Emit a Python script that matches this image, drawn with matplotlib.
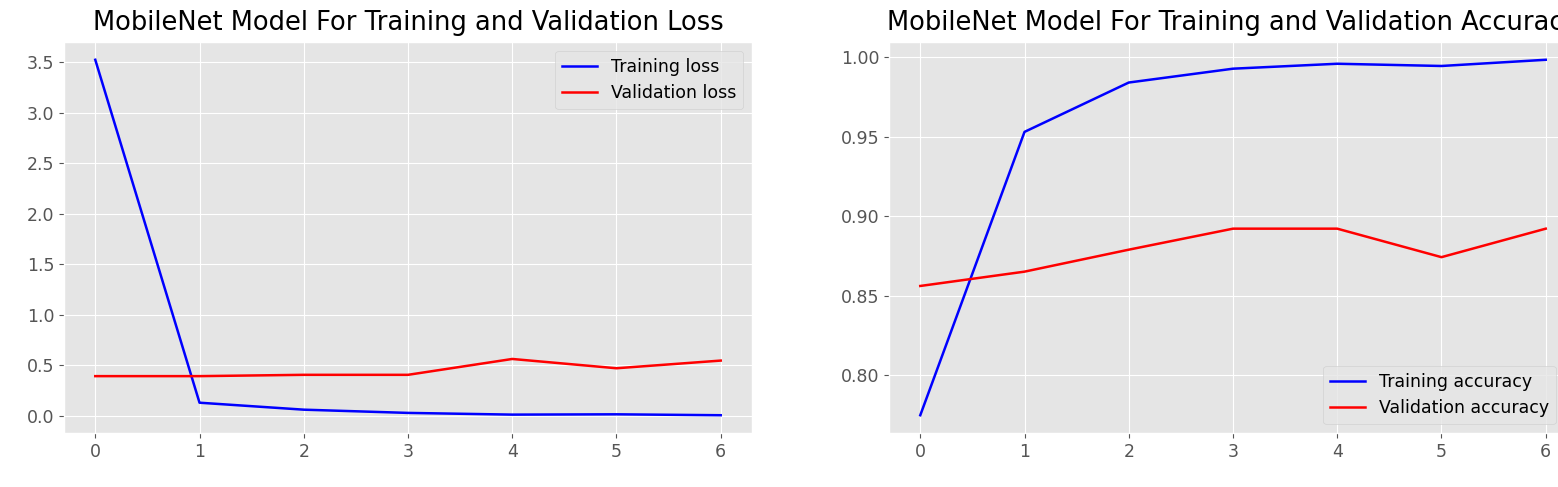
import matplotlib
matplotlib.use("Agg")
import matplotlib.pyplot as plt

plt.style.use("ggplot")

epochs = [0, 1, 2, 3, 4, 5, 6]
train_loss = [3.526, 0.131, 0.062, 0.030, 0.013, 0.016, 0.007]
val_loss = [0.394, 0.394, 0.407, 0.407, 0.564, 0.472, 0.548]
train_acc = [0.775, 0.953, 0.984, 0.9927, 0.9958, 0.9944, 0.9983]
val_acc = [0.8562, 0.8652, 0.879, 0.8922, 0.8922, 0.8743, 0.8922]

fig = plt.figure(figsize=(15.58, 4.87), dpi=100)
ax1 = fig.add_axes([64/1558, 1-433/487, (752-64)/1558, (433-42)/487])
ax2 = fig.add_axes([889/1558, 1-433/487, (1577-889)/1558, (433-42)/487])

ax1.plot(epochs, train_loss, color="blue", lw=1.8, label="Training loss")
ax1.plot(epochs, val_loss, color="red", lw=1.8, label="Validation loss")
ax1.set_title("MobileNet Model For Training and Validation Loss", fontsize=18.5, pad=8.5)
ax1.legend(loc="upper right", fontsize=12.5)

ax2.plot(epochs, train_acc, color="blue", lw=1.8, label="Training accuracy")
ax2.plot(epochs, val_acc, color="red", lw=1.8, label="Validation accuracy")
ax2.set_title("MobileNet Model For Training and Validation Accuracy", fontsize=18.5, pad=8.5)
ax2.legend(loc="lower right", bbox_to_anchor=(0.982, 0.0), fontsize=12.5)

for ax in (ax1, ax2):
    ax.tick_params(labelsize=12.5)

fig.savefig("out.png", dpi=100)
